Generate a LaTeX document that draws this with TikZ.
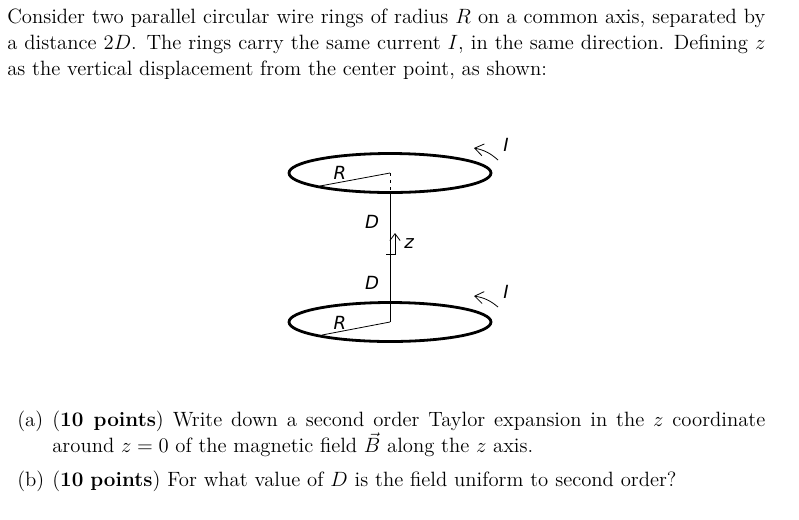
\documentclass[tikz,border=0pt]{standalone}
\usepackage{fontspec}
\usepackage{amsmath}
\usetikzlibrary{arrows.meta}
\newfontfamily\lab{DejaVu Sans}
\tikzset{ring/.style={line width=2.8pt*0.58},thin line/.style={line width=0.8pt*0.58},
 lbl/.style={font=\lab\itshape\fontsize{10.5}{12}\selectfont,inner sep=0pt},
 para/.style={anchor=north west,inner sep=0pt,font=\fontsize{12}{15.1}\selectfont,align=justify}}
\begin{document}
\begin{tikzpicture}[x=0.58pt,y=-0.58pt]
\useasboundingbox (0,0) rectangle (799,519);
\node[para,text width=758*0.58pt] (intro) at (7,9) {Consider two parallel circular wire rings of radius $R$ on a common axis, separated by a distance $2D$. The rings carry the same current $I$, in the same direction. Defining $z$ as the vertical displacement from the center point, as shown:};
\coordinate (ct) at (390,173);
\coordinate (cb) at (390,322);
\draw[ring] (ct) ellipse [x radius=101, y radius=19.5];
\draw[ring] (cb) ellipse [x radius=101, y radius=19.5];
\coordinate (rt) at (320,186);
\coordinate (rb) at (322,335);
\coordinate (at) at (390,192);
\draw[thin line] (ct) -- (rt);
\draw[thin line] (cb) -- (rb);
\draw[thin line,dashed,dash pattern=on 2 off 2] (ct) -- (at);
\draw[thin line] (at) -- (cb);
\coordinate (z0) at (386,254);
\coordinate (z1) at (395,254);
\coordinate (z2) at (395,233);
\draw[thin line,-{Straight Barb[length=4pt,width=6pt]}] (z0) -- (z1) -- (z2);
\node[lbl] (zl) at (409,244) {z};
\node[lbl] (d1) at (372,222) {D};
\node[lbl] (d2) at (372,283) {D};
\node[lbl] (r1) at (340,173) {R};
\node[lbl] (r2) at (340,323) {R};
\node[lbl] (i1) at (506,145) {I};
\node[lbl] (i2) at (506,292) {I};
\coordinate (a1s) at (498,160); \coordinate (a1e) at (474,148);
\coordinate (a2s) at (498,307); \coordinate (a2e) at (474,296);
\draw[thin line,-{Straight Barb[length=5pt,width=7pt]}] (a1s) to[bend right=15] (a1e);
\draw[thin line,-{Straight Barb[length=5pt,width=7pt]}] (a2s) to[bend right=15] (a2e);
\node[para,anchor=north west] (la) at (17,411) {(a)};
\node[para,text width=713*0.58pt] (qa) at (52,411) {(\textbf{10 points}) Write down a second order Taylor expansion in the $z$ coordinate around $z = 0$ of the magnetic field $\vec{B}$ along the $z$ axis.};
\node[para,anchor=north west] (lb) at (17,471) {(b)};
\node[para,text width=713*0.58pt,align=left] (qb) at (52,471) {(\textbf{10 points}) For what value of $D$ is the field uniform to second order?};
\end{tikzpicture}
\end{document}
